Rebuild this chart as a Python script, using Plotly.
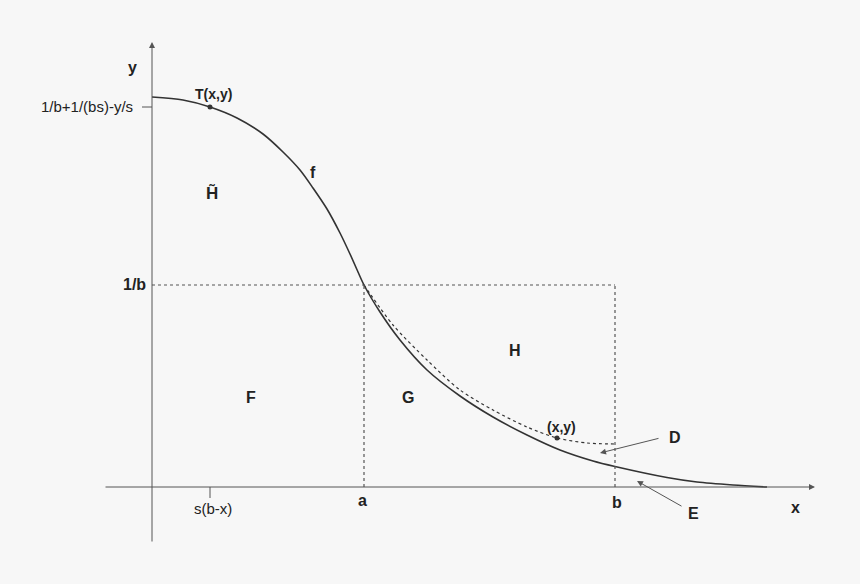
import plotly.graph_objects as go

# curve f (solid)
f_x = [0, 0.31, 0.58, 0.85, 1.11, 1.31, 1.48, 1.61, 1.75, 1.88, 1.98, 2.06, 2.12,
       2.28, 2.48, 2.75, 3.08, 3.41, 3.75, 4.08, 4.41, 4.63, 5.15, 5.45, 5.81, 6.15]
f_y = [3.90, 3.87, 3.80, 3.69, 3.53, 3.35, 3.17, 2.99, 2.78, 2.54, 2.33, 2.15, 2.02,
       1.75, 1.47, 1.17, 0.91, 0.70, 0.52, 0.37, 0.26, 0.205, 0.095, 0.05, 0.02, 0.0]

# dotted curve through (x,y)
d_x = [2.12, 2.41, 2.75, 3.08, 3.41, 3.75, 4.05, 4.35, 4.63]
d_y = [2.02, 1.62, 1.27, 0.97, 0.77, 0.60, 0.49, 0.44, 0.43]

a_val = 2.12
b_val = 4.63
inv_b = 2.02
t_point = (0.58, 3.80)
xy_point = (4.05, 0.49)

LINE = '#333333'
AXIS = '#555555'
FONT = 'Liberation Sans, Arial, sans-serif'

fig = go.Figure()

# dotted guides
fig.add_shape(type='line', x0=0, y0=inv_b, x1=b_val, y1=inv_b,
              line=dict(color=AXIS, width=1.2, dash='dot'))
fig.add_shape(type='line', x0=a_val, y0=0, x1=a_val, y1=inv_b,
              line=dict(color=AXIS, width=1.2, dash='dot'))
fig.add_shape(type='line', x0=b_val, y0=0, x1=b_val, y1=inv_b,
              line=dict(color=AXIS, width=1.2, dash='dot'))

# ticks
fig.add_shape(type='line', x0=t_point[0], y0=0, x1=t_point[0], y1=-0.11,
              line=dict(color=AXIS, width=1))
fig.add_shape(type='line', x0=-0.10, y0=t_point[1], x1=0, y1=t_point[1],
              line=dict(color=AXIS, width=1))

fig.add_trace(go.Scatter(x=d_x, y=d_y, mode='lines',
                         line=dict(color=LINE, width=1.2, dash='dot', shape='spline', smoothing=0.8),
                         hoverinfo='skip'))
fig.add_trace(go.Scatter(x=f_x, y=f_y, mode='lines',
                         line=dict(color=LINE, width=1.6, shape='spline', smoothing=0.8),
                         hoverinfo='skip'))
fig.add_trace(go.Scatter(x=[t_point[0], xy_point[0]], y=[t_point[1], xy_point[1]],
                         mode='markers', marker=dict(color=LINE, size=5),
                         hoverinfo='skip'))


def arrow(x, y, ax, ay):
    fig.add_annotation(x=x, y=y, ax=ax, ay=ay, xref='x', yref='y', axref='x', ayref='y',
                       text='', showarrow=True, arrowhead=2, arrowsize=1.2,
                       arrowwidth=1, arrowcolor=AXIS)


# axes with arrowheads
arrow(6.63, 0, -0.48, 0)
arrow(0, 4.45, 0, -0.56)
# D and E pointers
arrow(4.48, 0.34, 5.08, 0.49)
arrow(4.85, 0.06, 5.31, -0.20)


def label(x, y, text, size=16, bold=True, xanchor='center'):
    if bold:
        text = '<b>' + text + '</b>'
    fig.add_annotation(x=x, y=y, text=text, showarrow=False, xanchor=xanchor,
                       font=dict(family=FONT, size=size, color='#222222'))


label(-0.20, 4.20, 'y')
label(6.43, -0.20, 'x')
label(-0.17, 3.81, '1/b+1/(bs)-y/s', size=15, bold=False, xanchor='right')
label(-0.04, 2.03, '1/b', xanchor='right')
label(0.61, 3.93, 'T(x,y)', size=14)
label(1.61, 3.15, 'f')
label(0.60, 2.94, 'H\u0303', size=17)
label(0.99, 0.90, 'F')
label(2.56, 0.90, 'G')
label(3.63, 1.37, 'H')
label(4.09, 0.60, '(x,y)', size=14)
label(5.23, 0.50, 'D')
label(5.41, -0.26, 'E')
label(2.10, -0.13, 'a')
label(4.65, -0.15, 'b')
label(0.61, -0.21, 's(b-x)', size=15, bold=False)

fig.update_layout(
    width=860, height=584,
    margin=dict(l=0, r=0, t=0, b=0),
    paper_bgcolor='#f7f7f7', plot_bgcolor='#f7f7f7',
    showlegend=False, hovermode=False,
    xaxis=dict(range=[-1.52, 7.08], visible=False, fixedrange=True),
    yaxis=dict(range=[-0.97, 4.87], visible=False, fixedrange=True),
)

fig.write_html('out.html', config={'displayModeBar': False},
               post_script="document.body.style.margin='0';")
